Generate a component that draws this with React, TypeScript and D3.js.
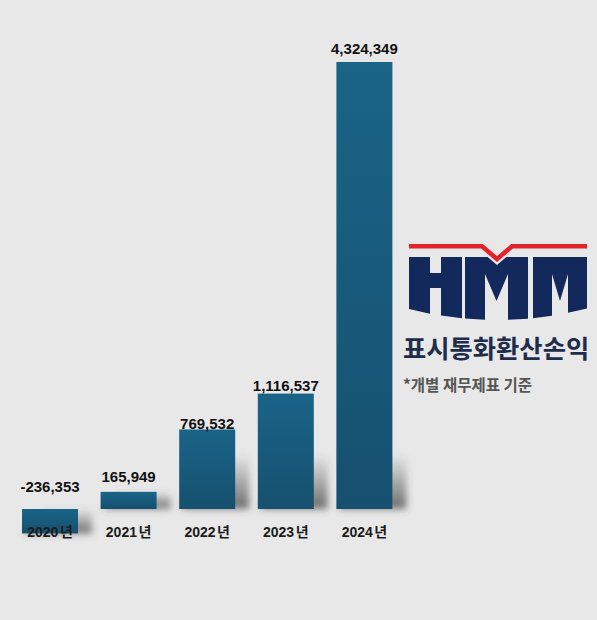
import React from 'react';
import * as d3 from 'd3';

// values
const years = ['2020', '2021', '2022', '2023', '2024'];
const values = [-236353, 165949, 769532, 1116537, 4324349];
const valueLabels = ['-236,353', '165,949', '769,532', '1,116,537', '4,324,349'];

const W = 597;
const H = 620;
const bg = '#e8e8e8';
const navy = '#13295c';
const red = '#e2232b';

// gap between value label baseline and bar top, as placed in the original
const labelGap = [17, 10, 0, 3, 8];

const x = d3.scaleBand<string>()
    .domain(years)
    .range([10.7, 403.7])
    .paddingInner(0.2875)
    .paddingOuter(0.14375);

const y = d3.scaleLinear()
    .domain([0, d3.max(values) as number])
    .range([509, 62]);

// bottom edge of the logo letters bends into a shallow arch
const logoTop = 257;
const bot = (px: number) => 320 - 0.00142 * (px - 497) * (px - 497);

const hPath = (x0: number, x1: number, lw: number) => {
    const pts: [number, number][] = [
        [x0, logoTop], [x0 + lw, logoTop], [x0 + lw, 273], [x1 - lw, 273], [x1 - lw, logoTop], [x1, logoTop],
        [x1, bot(x1)], [x1 - lw, bot(x1 - lw)], [x1 - lw, 288], [x0 + lw, 288], [x0 + lw, bot(x0 + lw)], [x0, bot(x0)],
    ];
    return d3.line()(pts) + 'Z';
};

const mPath = (x0: number, x1: number, lw: number) => {
    const cx = (x0 + x1) / 2;
    const pts: [number, number][] = [
        [x0, logoTop], [x1, logoTop], [x1, bot(x1)], [x1 - lw, bot(x1 - lw)], [x1 - lw, 274],
        [cx, 301], [x0 + lw, 274], [x0 + lw, bot(x0 + lw)], [x0, bot(x0)],
    ];
    return d3.line()(pts) + 'Z';
};

const Logo = () => {
    const redLine: [number, number][] = [[409, 246.3], [482, 246.3], [497, 259], [512, 246.3], [587, 246.3]];
    const rl = d3.line()(redLine) as string;
    return (
        <g>
            <path d={hPath(409, 462, 21)} fill={navy} />
            <path d={mPath(465, 528, 20)} fill={navy} />
            <path d={mPath(533, 587, 19)} fill={navy} />
            <path d={rl} fill="none" stroke={bg} strokeWidth={9} strokeLinejoin="miter" />
            <path d={rl} fill="none" stroke={red} strokeWidth={4.5} strokeLinejoin="miter" />
        </g>
    );
};

export default function App() {
    const y0 = y(0);
    const bw = x.bandwidth();
    return (
        <svg width={W} height={H} style={{ position: 'absolute', left: 0, top: 0 }}
            fontFamily="'Liberation Sans', Arial, 'Noto Sans CJK KR', sans-serif">
            <defs>
                <linearGradient id="barFill" x1="0" y1="0" x2="0" y2="1">
                    <stop offset="0%" stopColor="#1a6488" />
                    <stop offset="100%" stopColor="#16506e" />
                </linearGradient>
                <linearGradient id="shadowFill" x1="0" y1="1" x2="0" y2="0">
                    <stop offset="0%" stopColor="#444" stopOpacity={0.75} />
                    <stop offset="100%" stopColor="#444" stopOpacity={0} />
                </linearGradient>
                <filter id="soft" x="-50%" y="-50%" width="200%" height="200%">
                    <feGaussianBlur stdDeviation="3.5" />
                </filter>
            </defs>
            <rect width={W} height={H} fill={bg} />

            {/* cast shadows behind the bars */}
            <g filter="url(#soft)">
                {values.map((v, i) => {
                    const x0 = x(years[i]) as number;
                    const base = Math.max(y0, y(v));
                    const hgt = Math.min(55, Math.abs(y(v) - y0));
                    const pts: [number, number][] = [
                        [x0 + 2, base], [x0 + bw + 14, base], [x0 + bw + 14, base - hgt], [x0 + 24, base - hgt],
                    ];
                    return <path key={i} d={d3.line()(pts) + 'Z'} fill="url(#shadowFill)" />;
                })}
            </g>

            {values.map((v, i) => (
                <rect key={years[i]}
                    x={x(years[i])}
                    y={Math.min(y(v), y0)}
                    width={bw}
                    height={Math.abs(y(v) - y0)}
                    fill="url(#barFill)" />
            ))}

            {values.map((v, i) => (
                <text key={'v' + i}
                    x={(x(years[i]) as number) + bw / 2}
                    y={Math.min(y(v), y0) - labelGap[i]}
                    textAnchor="middle" fontSize={15} fontWeight="bold" fill="#111">
                    {valueLabels[i]}
                </text>
            ))}

            {years.map((yr) => (
                <text key={'c' + yr}
                    x={(x(yr) as number) + bw / 2}
                    y={537}
                    textAnchor="middle" fontSize={14} fontWeight="bold" fill="#1a1a1a">
                    {yr}<tspan dx={1.5} fontFamily="'Noto Sans CJK KR', sans-serif" fontSize={14}>년</tspan>
                </text>
            ))}

            <Logo />

            <text x={403} y={358} fontSize={25.3} fontWeight="bold" fill="#1f2d4d"
                fontFamily="'Noto Sans CJK KR', sans-serif">표시통화환산손익</text>
            <text x={403} y={391} fontSize={15.5} fontWeight="bold" fill="#555"
                fontFamily="'Noto Sans CJK KR', sans-serif">*개별 재무제표 기준</text>
        </svg>
    );
}
